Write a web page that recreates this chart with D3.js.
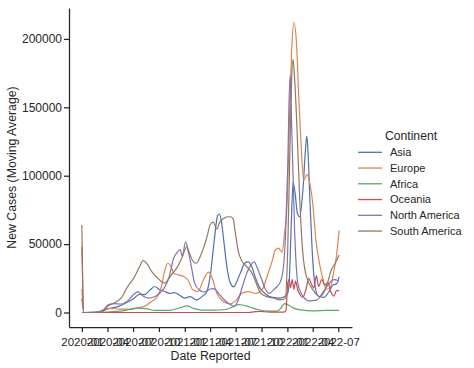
<!DOCTYPE html>
<html>
<head>
<meta charset="utf-8">
<script src="https://cdn.jsdelivr.net/npm/d3@7"></script>
<style>
  html, body { margin: 0; padding: 0; background: #ffffff; }
  svg { display: block; font-family: "Liberation Sans", Arial, sans-serif; }
</style>
</head>
<body>
<svg id="chart" width="474" height="368"></svg>
<script>
// ---------------- DATA ----------------
const continents = ["Asia", "Europe", "Africa", "Oceania", "North America", "South America"];
const palette = ["#4c72b0", "#dd8452", "#55a868", "#c44e52", "#8172b3", "#937860"];
const yTickValues = [0, 50000, 100000, 150000, 200000];
const xTickLabels = ["2020-01","2020-04","2020-07","2020-10","2021-01","2021-04","2021-07","2021-10","2022-01","2022-04","2022-07"];

const asia = [["2020-01-01",10000],["2020-01-08",0],["2020-02-15",300],["2020-03-15",1500],["2020-04-10",3000],["2020-05-10",4500],["2020-06-10",7500],["2020-07-05",10500],["2020-07-25",13500],["2020-08-10",13000],["2020-08-28",16000],["2020-09-16",19000],["2020-10-01",17000],["2020-10-20",15500],["2020-11-10",14000],["2020-11-25",14500],["2020-12-12",12800],["2021-01-01",10500],["2021-01-20",11600],["2021-02-12",9200],["2021-03-05",12000],["2021-03-20",15000],["2021-04-03",29000],["2021-04-16",53000],["2021-04-28",71000],["2021-05-04",72000],["2021-05-11",67000],["2021-05-21",50000],["2021-05-31",33000],["2021-06-12",21500],["2021-06-24",18700],["2021-07-06",23000],["2021-07-20",30000],["2021-08-02",36000],["2021-08-15",37000],["2021-08-28",33000],["2021-09-10",25000],["2021-09-25",18000],["2021-10-15",13500],["2021-11-10",11000],["2021-12-05",10500],["2021-12-25",12000],["2022-01-02",14000],["2022-01-08",25000],["2022-01-14",60000],["2022-01-21",95000],["2022-01-28",88000],["2022-02-06",72000],["2022-02-14",70000],["2022-02-26",92000],["2022-03-06",118000],["2022-03-11",129000],["2022-03-16",115000],["2022-03-22",82000],["2022-03-30",45600],["2022-04-08",21500],["2022-04-20",12000],["2022-05-10",11000],["2022-05-28",15000],["2022-06-12",20000],["2022-06-25",21000],["2022-07-04",26000]];

const europe = [["2020-01-01",17000],["2020-01-08",0],["2020-02-25",0],["2020-03-20",2000],["2020-04-10",3000],["2020-05-15",2500],["2020-06-20",2500],["2020-07-20",3500],["2020-08-15",5000],["2020-09-05",8000],["2020-09-25",11600],["2020-10-10",19000],["2020-10-22",31000],["2020-11-02",36000],["2020-11-12",34000],["2020-11-24",28500],["2020-12-10",27500],["2021-01-01",26000],["2021-01-12",23800],["2021-01-30",16500],["2021-02-17",15300],["2021-03-08",23800],["2021-03-27",29500],["2021-04-07",26000],["2021-04-25",14000],["2021-05-18",8000],["2021-06-10",6300],["2021-07-01",8500],["2021-07-22",14000],["2021-08-15",15300],["2021-09-10",14000],["2021-10-03",16500],["2021-10-20",26000],["2021-11-07",37000],["2021-11-19",45600],["2021-12-01",47000],["2021-12-13",44000],["2021-12-22",58000],["2021-12-29",72000],["2022-01-04",106000],["2022-01-10",155000],["2022-01-16",191000],["2022-01-24",212000],["2022-02-02",198000],["2022-02-11",155000],["2022-02-20",118000],["2022-02-28",96500],["2022-03-12",101000],["2022-03-20",96000],["2022-04-01",80000],["2022-04-13",52000],["2022-04-25",36000],["2022-05-08",24000],["2022-05-20",17000],["2022-06-02",18000],["2022-06-14",29000],["2022-06-25",42000],["2022-07-04",60000]];

const africa = [["2020-01-01",0],["2020-04-01",300],["2020-05-15",1000],["2020-06-20",2200],["2020-07-20",3200],["2020-08-15",2800],["2020-09-20",1500],["2020-11-01",1500],["2020-12-15",3500],["2021-01-08",4800],["2021-02-01",3000],["2021-03-01",1800],["2021-04-15",1800],["2021-05-20",2000],["2021-06-20",4000],["2021-07-10",5800],["2021-07-25",5500],["2021-08-20",4000],["2021-09-20",2000],["2021-10-25",1000],["2021-11-25",1000],["2021-12-10",3500],["2021-12-22",6500],["2022-01-05",5500],["2022-01-25",3000],["2022-02-20",1800],["2022-04-01",1200],["2022-05-15",1500],["2022-07-04",1600]];

const oceania = [["2020-01-01",48000],["2020-01-08",0],["2021-08-15",0],["2021-09-20",800],["2021-11-01",300],["2021-12-20",300],["2021-12-27",1500],["2022-01-02",21000],["2022-01-07",24000],["2022-01-12",18000],["2022-01-18",24000],["2022-01-24",17000],["2022-01-30",23000],["2022-02-06",17000],["2022-02-15",13000],["2022-02-25",11000],["2022-03-08",17000],["2022-03-18",25000],["2022-03-25",22000],["2022-04-05",18000],["2022-04-14",27000],["2022-04-22",19000],["2022-05-03",24000],["2022-05-14",20000],["2022-05-25",22000],["2022-06-05",15000],["2022-06-15",12000],["2022-06-25",16000],["2022-07-04",16000]];

const northAmerica = [["2020-01-01",0],["2020-03-05",0],["2020-03-22",3000],["2020-04-05",5800],["2020-04-25",6500],["2020-05-20",6200],["2020-06-12",8500],["2020-07-05",13500],["2020-07-18",15300],["2020-08-05",12000],["2020-08-25",10500],["2020-09-15",11500],["2020-10-01",13500],["2020-10-20",18000],["2020-11-05",25000],["2020-11-23",40000],["2020-12-05",44000],["2020-12-16",46000],["2020-12-23",41000],["2021-01-04",51600],["2021-01-13",45000],["2021-01-25",33000],["2021-02-05",21500],["2021-02-22",16500],["2021-03-12",15000],["2021-03-30",17000],["2021-04-15",17500],["2021-05-01",14000],["2021-05-20",9500],["2021-06-10",6000],["2021-06-25",4500],["2021-07-10",9000],["2021-07-25",19000],["2021-08-10",29000],["2021-08-25",35000],["2021-09-05",37000],["2021-09-15",33000],["2021-09-30",25000],["2021-10-15",17000],["2021-10-28",14000],["2021-11-10",16000],["2021-11-25",19000],["2021-12-06",22000],["2021-12-16",30000],["2021-12-25",55000],["2022-01-02",106000],["2022-01-10",173000],["2022-01-17",130000],["2022-01-27",58000],["2022-02-07",21500],["2022-02-25",12000],["2022-03-20",8500],["2022-04-15",9000],["2022-05-05",14000],["2022-05-25",20000],["2022-06-15",24000],["2022-07-04",23000]];

const southAmerica = [["2020-01-01",64000],["2020-01-08",0],["2020-03-12",0],["2020-04-01",4500],["2020-04-25",7000],["2020-05-20",10700],["2020-06-12",19000],["2020-07-06",26000],["2020-07-24",33400],["2020-08-06",38000],["2020-08-20",35500],["2020-09-05",30000],["2020-09-27",25000],["2020-10-22",21500],["2020-11-12",27000],["2020-12-05",33000],["2020-12-22",40000],["2021-01-08",48000],["2021-01-20",42000],["2021-02-01",37000],["2021-02-12",36000],["2021-02-25",41000],["2021-03-10",48000],["2021-03-22",56000],["2021-04-01",64000],["2021-04-12",66000],["2021-04-25",61000],["2021-05-05",66000],["2021-05-18",68500],["2021-06-01",70000],["2021-06-12",70000],["2021-06-22",68500],["2021-06-30",58000],["2021-07-10",45000],["2021-07-22",38000],["2021-08-10",33400],["2021-08-28",28800],["2021-09-15",20000],["2021-09-27",14300],["2021-10-20",11600],["2021-11-12",10600],["2021-12-07",9200],["2021-12-24",10000],["2022-01-02",45000],["2022-01-10",120000],["2022-01-16",170000],["2022-01-21",185000],["2022-01-27",170000],["2022-02-05",130000],["2022-02-14",82000],["2022-02-24",45600],["2022-03-10",26000],["2022-04-02",16500],["2022-04-26",11600],["2022-05-20",19000],["2022-06-06",31000],["2022-06-20",36000],["2022-07-04",42000]];

const seriesValues = [asia, europe, africa, oceania, northAmerica, southAmerica];

// ---------------- CHART ----------------
const parseDay = d3.timeParse("%Y-%m-%d");
const seriesList = continents.map((name, i) => ({
  name, color: palette[i],
  points: seriesValues[i].map(([d, v]) => ({ date: parseDay(d), value: v }))
}));

const svg = d3.select("#chart");
const ink = "#262626";
const mLeft = 69, mRight = 352, mTop = 8, mBottom = 327;

const allPts = seriesList.flatMap(s => s.points);
const [dMin, dMax] = d3.extent(allPts, p => p.date);
const dPad = (dMax - dMin) * 0.05;
const xScale = d3.scaleTime()
  .domain([new Date(+dMin - dPad), new Date(+dMax + dPad)])
  .range([mLeft, mRight]);

const vMax = d3.max(allPts, p => p.value);
const vPad = vMax * 0.05;
const yScale = d3.scaleLinear().domain([-vPad, vMax + vPad]).range([mBottom, mTop]);

// lines
const lineGen = d3.line()
  .x(p => xScale(p.date))
  .y(p => yScale(p.value))
  .curve(d3.curveMonotoneX);

svg.append("g").selectAll("path")
  .data(seriesList).join("path")
  .attr("fill", "none")
  .attr("stroke", s => s.color)
  .attr("stroke-width", 1.2)
  .attr("stroke-linejoin", "round")
  .attr("d", s => lineGen(s.points));

// axes
const yAxis = d3.axisLeft(yScale).tickValues(yTickValues).tickFormat(d3.format("d")).tickSize(5).tickSizeOuter(0).tickPadding(2);
const gy = svg.append("g").attr("transform", `translate(${mLeft},0)`).call(yAxis);
const xTicks = xTickLabels.map(s => d3.timeParse("%Y-%m")(s));
const xAxis = d3.axisBottom(xScale).tickValues(xTicks).tickFormat(d3.timeFormat("%Y-%m")).tickSize(5).tickSizeOuter(0).tickPadding(6);
const gx = svg.append("g").attr("transform", `translate(0,${mBottom})`).call(xAxis);

[gx, gy].forEach(g => {
  g.select(".domain").attr("stroke", ink).attr("stroke-width", 1.25);
  g.selectAll(".tick line").attr("stroke", ink).attr("stroke-width", 1.25);
  g.selectAll(".tick text").attr("fill", ink).style("font-family", '"Liberation Sans", Arial, sans-serif');
});
gy.selectAll(".tick text").style("font-size", "12px");
gx.selectAll(".tick text").style("font-size", "11.5px");

// axis labels
svg.append("text")
  .attr("x", (mLeft + mRight) / 2).attr("y", 360)
  .attr("text-anchor", "middle").attr("fill", ink).style("font-size", "12.3px")
  .text("Date Reported");
svg.append("text")
  .attr("transform", `translate(16,${(mTop + mBottom) / 2}) rotate(-90)`)
  .attr("text-anchor", "middle").attr("fill", ink).style("font-size", "12.3px")
  .text("New Cases (Moving Average)");

// legend
const lg = svg.append("g");
lg.append("text").attr("x", 411).attr("y", 140).attr("text-anchor", "middle")
  .attr("fill", ink).style("font-size", "12.2px").text("Continent");
const rows = lg.selectAll("g.row").data(seriesList).join("g").attr("class", "row")
  .attr("transform", (s, i) => `translate(0,${152.3 + i * 15.75})`);
rows.append("line").attr("x1", 358).attr("x2", 382).attr("y1", 0).attr("y2", 0)
  .attr("stroke", s => s.color).attr("stroke-width", 1.3);
rows.append("text").attr("x", 390).attr("y", 0).attr("dy", "0.35em")
  .attr("fill", ink).style("font-size", "11px").text(s => s.name);
</script>
</body>
</html>
